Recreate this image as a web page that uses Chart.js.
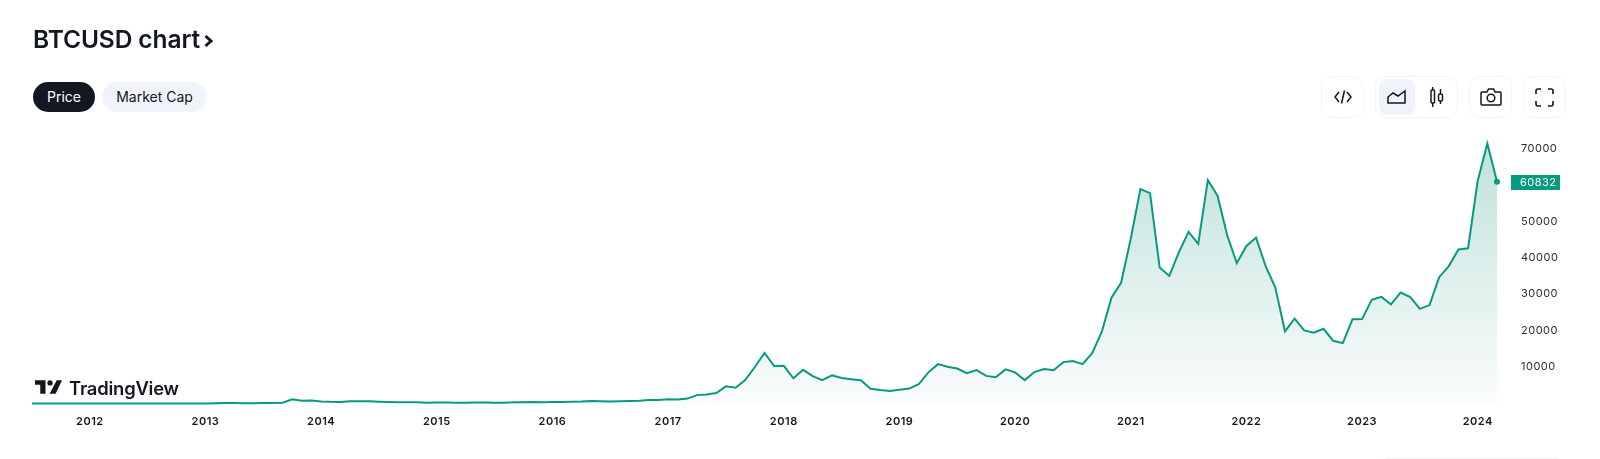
<!DOCTYPE html>
<html>
<head>
<meta charset="utf-8">
<title>BTCUSD chart</title>
<script src="https://cdn.jsdelivr.net/npm/chart.js@4"></script>
<style>
  html, body { margin: 0; padding: 0; background: #fff; }
  body { width: 1600px; height: 459px; position: relative; overflow: hidden; font-family: Inter, sans-serif; color: #131722; }
  #myChart { position: absolute; left: 0; top: 0; }
  .title { position: absolute; left: 33px; top: 23px; font-size: 24.5px; font-weight: 600; line-height: 32px; letter-spacing: -0.1px; }
  .pill { position: absolute; top: 82px; height: 30px; line-height: 30px; border-radius: 15px; font-size: 14px; text-align: center; }
  .price { left: 33px; width: 62px; background: #131722; color: #fff; }
  .cap { left: 102px; width: 105px; background: #f0f3fa; }
  .btn { position: absolute; top: 76px; height: 42px; box-sizing: border-box; border: 1px solid #f0f3fa; border-radius: 11px; }
  .btn svg, .logo svg { position: absolute; }
  .active { position: absolute; left: 3px; top: 2px; width: 36px; height: 36px; border-radius: 8px; background: #f0f3fa; }
  .logo { position: absolute; left: 35px; top: 375px; height: 26px; }
  .logo span { position: absolute; left: 34px; top: 0; font-size: 18.4px; font-weight: 600; line-height: 26px; letter-spacing: -0.2px; }
  .edge { position: absolute; left: 1387px; top: 458px; width: 171px; height: 1px; background: #f0f3fa; }
</style>
</head>
<body>
<canvas id="myChart" width="1600" height="459"></canvas>

<div class="title">BTCUSD chart<svg width="9" height="14" viewBox="0 0 9 14" style="margin-left:4px"><path d="M1.5 2l5.5 5-5.5 5" fill="none" stroke="#131722" stroke-width="3"/></svg></div>
<div class="pill price">Price</div>
<div class="pill cap">Market Cap</div>

<div class="btn" style="left:1321px;width:43px">
  <svg style="left:12px;top:11px" width="18" height="18" viewBox="0 0 18 18" fill="none" stroke="#131722" stroke-width="1.5"><path d="M5 4L1 9l4 5M13 4l4 5-4 5M10.5 2.5l-3 13"/></svg>
</div>
<div class="btn" style="left:1375px;width:83px">
  <div class="active"></div>
  <svg style="left:11px;top:11px" width="20" height="17" viewBox="0 0 20 17" fill="none" stroke="#131722" stroke-width="1.5"><path d="M1 15V9l5-4 5 3 7-5v12z"/></svg>
  <svg style="left:54px;top:9px" width="14" height="22" viewBox="0 0 14 22" fill="none" stroke="#131722" stroke-width="1.5"><rect x="1" y="4" width="3.5" height="13" rx="1"/><path d="M2.7 1v3M2.7 17v4M10.5 3v5M10.5 15v3"/><rect x="8.5" y="8" width="4" height="7" rx="1.5"/></svg>
</div>
<div class="btn" style="left:1469px;width:43px">
  <svg style="left:10px;top:10px" width="22" height="20" viewBox="0 0 22 20" fill="none" stroke="#131722" stroke-width="1.5"><path d="M2 5h5l1.5-3h5L15 5h5a1 1 0 0 1 1 1v11a1 1 0 0 1-1 1H2a1 1 0 0 1-1-1V6a1 1 0 0 1 1-1z"/><circle cx="11" cy="11" r="3.8"/></svg>
</div>
<div class="btn" style="left:1523px;width:43px">
  <svg style="left:11px;top:11px" width="19" height="19" viewBox="0 0 19 19" fill="none" stroke="#131722" stroke-width="1.6"><path d="M1 6V3a2 2 0 0 1 2-2h3M13 1h3a2 2 0 0 1 2 2v3M18 13v3a2 2 0 0 1-2 2h-3M6 18H3a2 2 0 0 1-2-2v-3"/></svg>
</div>

<div class="logo">
  <svg style="left:0;top:5px" width="27" height="14" viewBox="0 0 36 18" fill="#131722"><path d="M14 0H0v6h7v12h7z"/><circle cx="20" cy="3.5" r="3.5"/><path d="M29 0h7l-8.5 18H19.5z"/></svg>
  <span>TradingView</span>
</div>
<div class="edge"></div>

<script>
'use strict'

const startYear = 2011;
const startMonth = 7;
const yTicks = [10000, 20000, 30000, 40000, 50000, 60000, 70000];
const lastPriceLabel = '60832';

// one value a month
const price = [
  8, 5, 3, 3, 5, 6, 5, 5, 5, 5, 7, 9, 10, 12, 11, 12, 14,
  20, 33, 93, 140, 130, 90, 100, 140, 130, 200, 1150, 730,
  800, 550, 450, 445, 625, 640, 585, 480, 385, 340, 375, 320,
  220, 255, 245, 235, 230, 265, 285, 230, 235, 315, 375, 430,
  370, 435, 415, 450, 530, 670, 620, 575, 610, 700, 745, 960,
  965, 1190, 1080, 1350, 2300, 2480, 2875, 4700, 4340, 6450, 10000, 13880,
  10260, 10330, 6920, 9240, 7490, 6390, 7730, 7010, 6625, 6370, 4040, 3700,
  3440, 3800, 4100, 5270, 8550, 10800, 10100, 9600, 8300, 9150, 7570, 7190,
  9350, 8530, 6410, 8630, 9450, 9140, 11350, 11660, 10780, 13800, 19700, 29000,
  33100, 45200, 58800, 57700, 37300, 35000, 41500, 47100, 43800, 61300, 57000, 46200,
  38500, 43200, 45500, 37700, 31800, 19800, 23300, 20050, 19400, 20500, 17200, 16550,
  23100, 23150, 28450, 29250, 27200, 30450, 29200, 25950, 27000, 34650, 37700, 42250,
  42580, 61130, 71300, 60832
];

// one category a month, the january ones carry the year label
const months = [];
for (let i = 0; i < price.length; i++) {
  let m = startMonth - 1 + i;
  months.push(`${startYear + Math.floor(m / 12)}-${String(m % 12 + 1).padStart(2, '0')}`);
}

const green = '#089981';
const textColor = '#131722';

// axis text is a little spaced out in the original
const spacedText = {
  id: 'spacedText',
  beforeDraw(chart) {
    chart.ctx.letterSpacing = '0.5px';
  }
};

// price tag on the right axis
const lastTag = {
  id: 'lastTag',
  afterDraw(chart) {
    const c = chart.ctx;
    const y = chart.scales.y.getPixelForValue(price[price.length - 1]);
    c.save();
    c.fillStyle = green;
    c.fillRect(1511, Math.round(y) - 7, 49, 15);
    c.fillStyle = '#fff';
    c.font = '11px Inter';
    c.textBaseline = 'middle';
    c.textAlign = 'left';
    c.fillText(lastPriceLabel, 1520, Math.round(y) + 0.5);
    c.restore();
  }
};

const ctx = document.getElementById('myChart').getContext('2d');

const chart = new Chart(ctx, {
  type: 'line',
  data: {
    labels: months,
    datasets: [{
      data: price,
      borderColor: green,
      borderWidth: 2,
      tension: 0,
      clip: false,
      fill: 'start',
      backgroundColor(context) {
        const area = context.chart.chartArea;
        if (!area) return 'transparent';
        const g = context.chart.ctx.createLinearGradient(0, area.top, 0, area.bottom);
        g.addColorStop(0, 'rgba(8,140,115,0.26)');
        g.addColorStop(1, 'rgba(8,140,115,0.02)');
        return g;
      },
      pointRadius: (c) => c.dataIndex === price.length - 1 ? 3 : 0,
      pointBackgroundColor: green,
      pointBorderWidth: 0
    }]
  },
  plugins: [spacedText, lastTag],
  options: {
    responsive: false,
    animation: false,
    layout: { padding: { left: 32, top: 141 } },
    plugins: { legend: { display: false }, tooltip: { enabled: false } },
    scales: {
      x: {
        grid: { display: false },
        border: { display: false },
        afterFit(scale) { scale.height = 55.5; },
        ticks: {
          autoSkip: false,
          maxRotation: 0,
          padding: 4,
          color: textColor,
          font: { family: 'Inter', size: 11, weight: '600' },
          callback(value) {
            const label = this.getLabelForValue(value);
            return label.endsWith('-01') ? label.slice(0, 4) : '';
          }
        }
      },
      y: {
        position: 'right',
        min: 0,
        max: 72000,
        grid: { display: false, drawTicks: false },
        border: { display: false },
        afterFit(scale) { scale.width = 103; },
        afterBuildTicks(scale) { scale.ticks = yTicks.map((v) => ({ value: v })); },
        ticks: {
          padding: 24,
          color: '#2a2e39',
          font: { family: 'Inter', size: 11 },
          callback: (value) => String(value)
        }
      }
    }
  }
});
</script>
</body>
</html>
